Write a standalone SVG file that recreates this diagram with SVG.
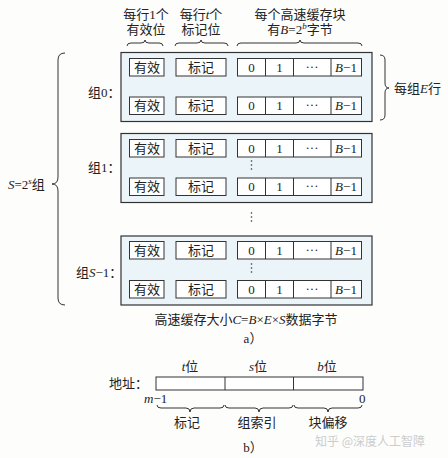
<svg xmlns="http://www.w3.org/2000/svg" width="448" height="458" viewBox="0 0 448 458">
<style>
text{font-family:"Liberation Serif","Noto Sans CJK SC",serif;font-size:13px;fill:#222}
.c{text-anchor:middle}
.i{font-style:italic}
.set{fill:#eaf4f9;stroke:#333;stroke-width:1.2}
.cell{fill:#fff;stroke:#333;stroke-width:1}
.br{fill:none;stroke:#333;stroke-width:1}
.dot{fill:#333}
.wm{font-family:"Noto Sans CJK SC",sans-serif;font-size:12px;fill:#ccc}
</style>
<defs>
<g id="row">
<rect class="cell" x="129.5" y="0" width="34.5" height="17.5"/>
<rect class="cell" x="176" y="0" width="50" height="17.5"/>
<rect class="cell" x="237.5" y="0" width="124" height="17.5"/>
<line class="cell" x1="265.5" y1="0" x2="265.5" y2="17.5"/>
<line class="cell" x1="293.5" y1="0" x2="293.5" y2="17.5"/>
<line class="cell" x1="331" y1="0" x2="331" y2="17.5"/>
<text class="c" x="147" y="13">有效</text>
<text class="c" x="201" y="13">标记</text>
<text class="c" x="251.5" y="13">0</text>
<text class="c" x="279.5" y="13">1</text>
<text class="c" x="312" y="12">···</text>
<text class="c" x="346" y="13"><tspan class="i">B</tspan>−1</text>
</g>
<g id="vdots">
<circle class="dot" cx="0" cy="0" r="0.8"/>
<circle class="dot" cx="0" cy="4" r="0.8"/>
<circle class="dot" cx="0" cy="8" r="0.8"/>
</g>
</defs>
<rect x="0" y="0" width="448" height="458" fill="#fdfdfc"/>

<g id="header-labels">
<text class="c" x="146" y="19">每行1个</text>
<text class="c" x="146" y="34">有效位</text>
<text class="c" x="201" y="19">每行<tspan class="i">t</tspan>个</text>
<text class="c" x="201" y="34">标记位</text>
<text class="c" x="300" y="19">每个高速缓存块</text>
<text class="c" x="300" y="34">有<tspan class="i">B</tspan>=2<tspan font-size="9" dy="-5" class="i">b</tspan><tspan dy="5">字节</tspan></text>
</g>

<g id="set0">
<rect class="set" x="121" y="52.5" width="251" height="69"/>
<text x="88" y="97">组0：</text>
<use href="#row" y="58.5"/>
<use href="#row" y="97"/>
</g>

<g id="set1">
<rect class="set" x="121" y="133.5" width="251" height="69"/>
<text x="88" y="172">组1：</text>
<use href="#row" y="139.5"/>
<use href="#vdots" x="251.5" y="161"/>
<use href="#row" y="178"/>
</g>

<g id="set-dots">
<use href="#vdots" x="251.5" y="213"/>
</g>

<g id="setS-1">
<rect class="set" x="121" y="236" width="251" height="69"/>
<text x="76" y="277">组<tspan class="i">S</tspan>−1：</text>
<use href="#row" y="241.5"/>
<use href="#vdots" x="251.5" y="264"/>
<use href="#row" y="280.5"/>
</g>

<g id="connectors">
<path class="br" d="M127 46 Q127 43 131 43 L141 43 Q145 43 145 40 Q145 43 149 43 L159 43 Q163 43 163 46"/>
<path class="br" d="M175 46 Q175 43 179 43 L197 43 Q201 43 201 40 Q201 43 205 43 L224 43 Q228 43 228 46"/>
<path class="br" d="M237 46 Q237 43 241 43 L296 43 Q300 43 300 40 Q300 43 304 43 L358 43 Q362 43 362 46"/>
<path class="br" d="M65 53 Q58 53 58 60 L58 177 Q58 184 52 184 Q58 184 58 191 L58 298 Q58 305 65 305"/>
<path class="br" d="M380 55 Q385 55 385 60 L385 83 Q385 88 389 88 Q385 88 385 93 L385 115 Q385 120 380 120"/>
<path class="br" d="M157 405 Q157 408 161 408 L186 408 Q190 408 190 412 Q190 408 194 408 L220 408 Q224 408 224 405"/>
<path class="br" d="M225 405 Q225 408 229 408 L255 408 Q259 408 259 412 Q259 408 263 408 L289 408 Q293 408 293 405"/>
<path class="br" d="M294 405 Q294 408 298 408 L324 408 Q328 408 328 412 Q328 408 332 408 L358 408 Q362 408 362 405"/>
</g>

<g id="side-labels">
<text x="8" y="189"><tspan class="i">S</tspan>=2<tspan font-size="9" dy="-5" class="i">s</tspan><tspan dy="5">组</tspan></text>
<text x="394" y="93">每组<tspan class="i">E</tspan>行</text>
</g>

<g id="caption-a">
<text class="c" x="246" y="324">高速缓存大小<tspan class="i">C</tspan>=<tspan class="i">B</tspan>×<tspan class="i">E</tspan>×<tspan class="i">S</tspan>数据字节</text>
<text class="c" x="253" y="343">a）</text>
</g>

<g id="address">
<text x="109" y="388">地址：</text>
<text class="c" x="190" y="371"><tspan class="i">t</tspan>位</text>
<text class="c" x="258" y="371"><tspan class="i">s</tspan>位</text>
<text class="c" x="327" y="371"><tspan class="i">b</tspan>位</text>
<rect class="cell" x="156" y="377" width="207" height="13"/>
<line class="cell" x1="225" y1="377" x2="225" y2="390"/>
<line class="cell" x1="293.5" y1="377" x2="293.5" y2="390"/>
<text x="144" y="403"><tspan class="i">m</tspan>−1</text>
<text x="359" y="403">0</text>
<text class="c" x="187" y="427">标记</text>
<text class="c" x="257" y="427">组索引</text>
<text class="c" x="328" y="427">块偏移</text>
<text class="c" x="253" y="452">b）</text>
</g>

<text class="wm" x="315" y="446">知乎 @深度人工智障</text>
</svg>
